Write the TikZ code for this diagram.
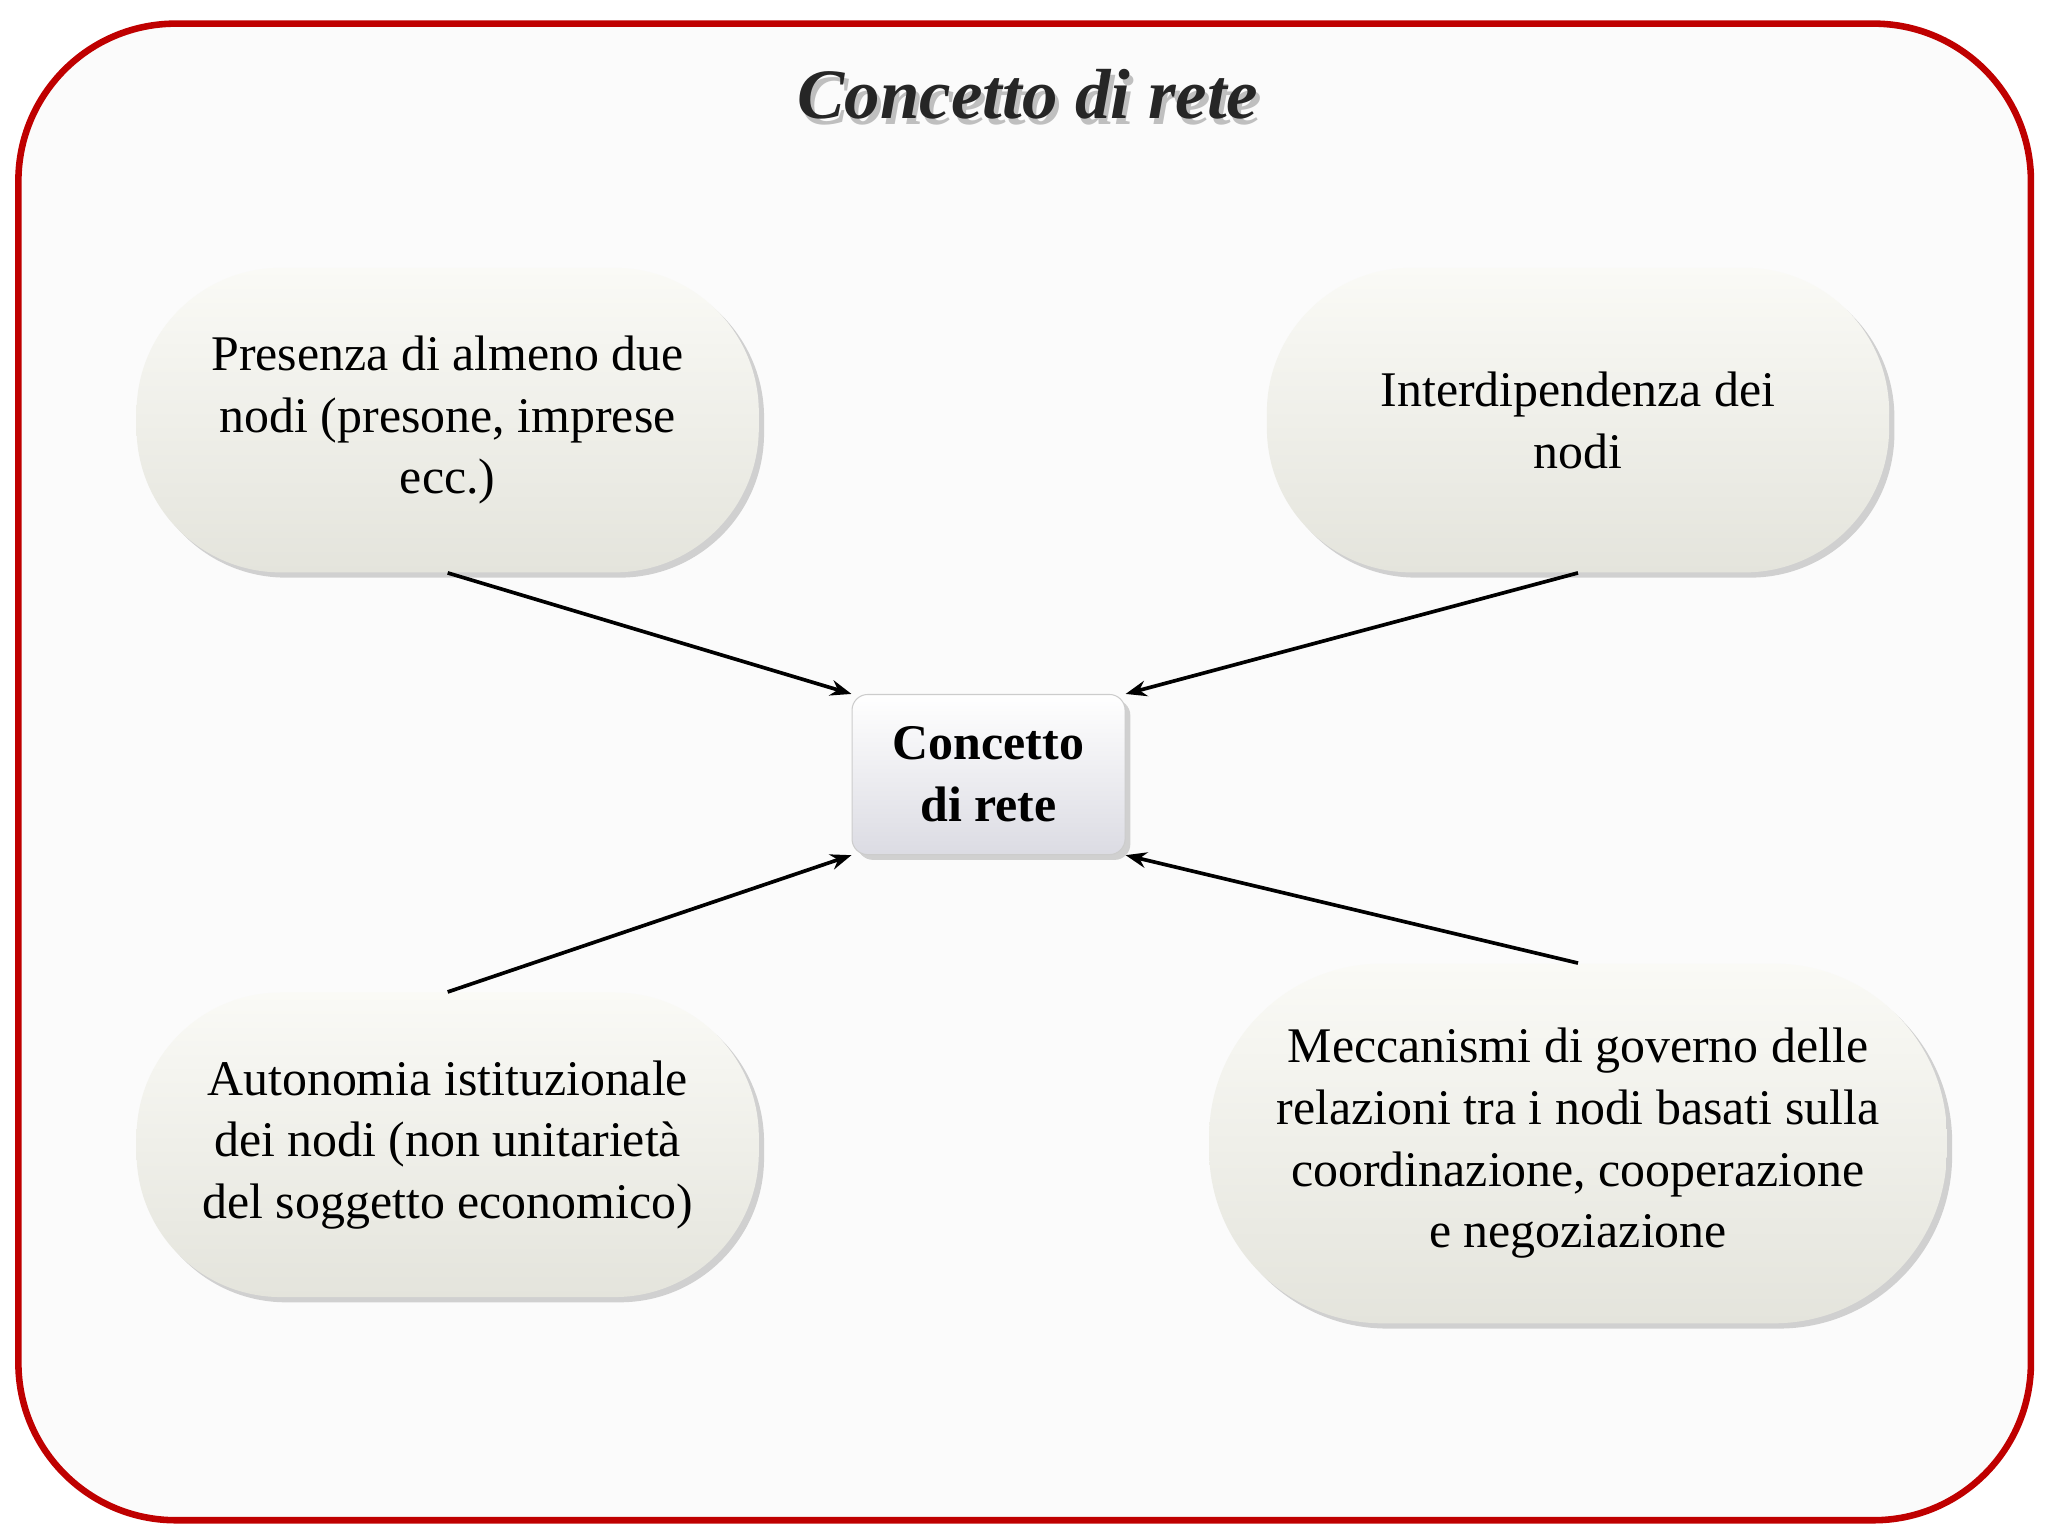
\documentclass[tikz,border=0pt]{standalone}
\usepackage{fontspec}
\setmainfont{Liberation Serif}
\usetikzlibrary{shadows,arrows.meta}
\definecolor{pillA}{RGB}{250,250,246}
\definecolor{pillB}{RGB}{228,228,220}
\begin{document}
\begin{tikzpicture}[x=0.5pt,y=-0.5pt,
  pill/.style={draw=none,rounded corners=55pt,top color=pillA,bottom color=pillB,
    drop shadow={shadow xshift=2pt,shadow yshift=-2pt,opacity=0.35},
    align=center,font=\fontsize{19}{23.5}\selectfont,inner sep=0pt},
  arr/.style={-{Stealth[length=8pt,width=6pt]},line width=1.4pt}]
\useasboundingbox (0,0) rectangle (1560,1170);
\fill[white] (0,0) rectangle (1560,1170);
\draw[line width=2.5pt,red!75!black,fill=gray!3,rounded corners=60pt] (14,18) rectangle (1547,1158);
\node[font=\fontsize{27}{32}\selectfont\bfseries\itshape,text=black!25] at (786,76) {Concetto di rete};
\node[font=\fontsize{27}{32}\selectfont\bfseries\itshape,text=black!85] (title) at (783,72) {Concetto di rete};
\node[pill,minimum width=237pt,minimum height=116pt] (tl) at (341,320) {Presenza di almeno due\\nodi (presone, imprese\\ecc.)};
\node[pill,minimum width=237pt,minimum height=116pt] (tr) at (1202,320) {Interdipendenza dei\\nodi};
\node[pill,minimum width=237pt,minimum height=116pt] (bl) at (341,872) {Autonomia istituzionale\\dei nodi (non unitarietà\\del soggetto economico)};
\node[pill,minimum width=281pt,minimum height=137pt,rounded corners=66pt] (br) at (1202,871) {Meccanismi di governo delle\\relazioni tra i nodi basati sulla\\coordinazione, cooperazione\\e negoziazione};
\node[draw=gray!40,rounded corners=6pt,top color=white,bottom color=blue!12!gray!25,
  drop shadow={shadow xshift=2pt,shadow yshift=-2pt,opacity=0.35},
  minimum width=104pt,minimum height=61pt,align=center,
  font=\fontsize{19}{23.5}\selectfont\bfseries] (c) at (753,590) {Concetto\\di rete};
\draw[arr] (tl.south) -- (c.north west);
\draw[arr] (tr.south) -- (c.north east);
\draw[arr] (bl.north) -- (c.south west);
\draw[arr] (br.north) -- (c.south east);
\end{tikzpicture}
\end{document}
